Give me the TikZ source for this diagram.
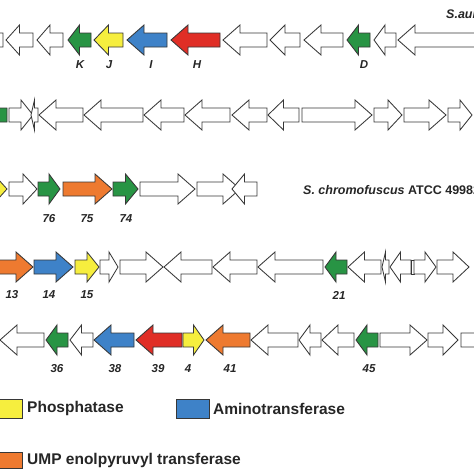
\documentclass[tikz,border=0pt]{standalone}
\usepackage{fontspec}
\setmainfont{Liberation Sans}
\definecolor{gGreen}{RGB}{40,148,68}
\definecolor{gYellow}{RGB}{246,238,62}
\definecolor{gBlue}{RGB}{62,130,200}
\definecolor{gRed}{RGB}{224,46,38}
\definecolor{gOrange}{RGB}{238,122,48}
\definecolor{gLine}{RGB}{55,55,55}
\tikzset{
  genebox/.style={draw=gLine,line width=0.85pt,line join=miter},
  lbl/.style={inner sep=0pt,font=\fontsize{11.5}{13}\selectfont\bfseries\itshape,text=black!85},
  legtext/.style={inner sep=0pt,anchor=west,font=\fontsize{15.5}{18}\selectfont\bfseries,text=black!85},
  spec/.style={inner sep=0pt,anchor=west,font=\fontsize{12.5}{15}\selectfont\bfseries,text=black!85}
}
% #1 start x, #2 tip x, #3 centre y, #4 fill colour
\newcommand\gn[4]{%
  \pgfmathsetmacro\gnB{#2-sign(#2-(#1))*min(17,abs(#2-(#1))/2)}%
  \filldraw[genebox,fill=#4] (#1,#3-7) -- (\gnB,#3-7) -- (\gnB,#3-15) -- (#2,#3)
    -- (\gnB,#3+15) -- (\gnB,#3+7) -- (#1,#3+7) -- cycle;}
\begin{document}
\begin{tikzpicture}[x=1pt,y=-1pt]
\useasboundingbox[fill=white] (0,0) rectangle (474,474);
% ---------- row 1
\gn{3}{-30}{40}{white}
\gn{33}{6}{40}{white}
\gn{63}{37}{40}{white}
\gn{91}{68}{40}{gGreen}
\gn{123}{94}{40}{gYellow}
\gn{167}{127}{40}{gBlue}
\gn{220}{171}{40}{gRed}
\gn{267}{223}{40}{white}
\gn{300}{270}{40}{white}
\gn{343}{304}{40}{white}
\gn{370}{347}{40}{gGreen}
\gn{396}{374}{40}{white}
\gn{530}{398}{40}{white}
\node[lbl] (lK) at (80,65) {K};
\node[lbl] (lJ) at (109,65) {J};
\node[lbl] (lI) at (151,65) {I};
\node[lbl] (lH) at (197,65) {H};
\node[lbl] (lD) at (364,65) {D};
\node[spec,font=\fontsize{12.5}{15}\selectfont\bfseries\itshape] (sp1) at (446,14) {S.aureofaciens};
% ---------- row 2
\gn{7}{-20}{115}{gGreen}
\gn{9}{33}{115}{white}
\gn{38}{31}{115}{white}
\gn{83}{39}{115}{white}
\gn{143}{84}{115}{white}
\gn{184}{144}{115}{white}
\gn{230}{185}{115}{white}
\gn{267}{232}{115}{white}
\gn{299}{268}{115}{white}
\gn{302}{372}{115}{white}
\gn{374}{402}{115}{white}
\gn{404}{446}{115}{white}
\gn{448}{472}{115}{white}
% ---------- row 3
\gn{-20}{7}{189}{gYellow}
\gn{9}{37}{189}{white}
\gn{38}{60}{189}{gGreen}
\gn{63}{112}{189}{gOrange}
\gn{113}{138}{189}{gGreen}
\gn{140}{195}{189}{white}
\gn{197}{240}{189}{white}
\gn{257}{232}{189}{white}
\node[lbl] (l76) at (49,219) {76};
\node[lbl] (l75) at (87,219) {75};
\node[lbl] (l74) at (126,219) {74};
\node[spec] (sp2) at (303,190) {\itshape S. chromofuscus\upshape\ ATCC 49982};
% ---------- row 4
\gn{-20}{33}{267}{gOrange}
\gn{34}{73}{267}{gBlue}
\gn{75}{99}{267}{gYellow}
\gn{100}{118}{267}{white}
\gn{120}{163}{267}{white}
\gn{212}{164}{267}{white}
\gn{257}{213}{267}{white}
\gn{323}{258}{267}{white}
\gn{347}{325}{267}{gGreen}
\gn{381}{348}{267}{white}
\gn{389}{382}{267}{white}
\gn{411}{390}{267}{white}
\filldraw[genebox,fill=white] (411,260) rectangle (414,274);
\gn{414}{436}{267}{white}
\gn{437}{469}{267}{white}
\node[lbl] (l13) at (12,295) {13};
\node[lbl] (l14) at (49,295) {14};
\node[lbl] (l15) at (87,295) {15};
\node[lbl] (l21) at (339,295) {21};
% ---------- row 5
\gn{44}{0}{340}{white}
\gn{68}{46}{340}{gGreen}
\gn{93}{70}{340}{white}
\gn{134}{94}{340}{gBlue}
\gn{182}{136}{340}{gRed}
\gn{183}{204}{340}{gYellow}
\gn{250}{206}{340}{gOrange}
\gn{298}{251}{340}{white}
\gn{321}{299}{340}{white}
\gn{354}{322}{340}{white}
\gn{378}{356}{340}{gGreen}
\gn{380}{427}{340}{white}
\gn{428}{458}{340}{white}
\gn{461}{520}{340}{white}
\node[lbl] (l36) at (57,369) {36};
\node[lbl] (l38) at (115,369) {38};
\node[lbl] (l39) at (158,369) {39};
\node[lbl] (l4) at (188,369) {4};
\node[lbl] (l41) at (230,369) {41};
\node[lbl] (l45) at (369,369) {45};
% ---------- legend
\filldraw[genebox,fill=gYellow] (-5,399) rectangle (22,418);
\node[legtext] (tPh) at (27,408.5) {Phosphatase};
\filldraw[genebox,fill=gBlue] (176,399) rectangle (209,418);
\node[legtext] (tAm) at (213,408.5) {Aminotransferase};
\filldraw[genebox,fill=gOrange] (-5,452) rectangle (22,468);
\node[legtext] (tUM) at (27,460) {UMP enolpyruvyl transferase};
\end{tikzpicture}
\end{document}
